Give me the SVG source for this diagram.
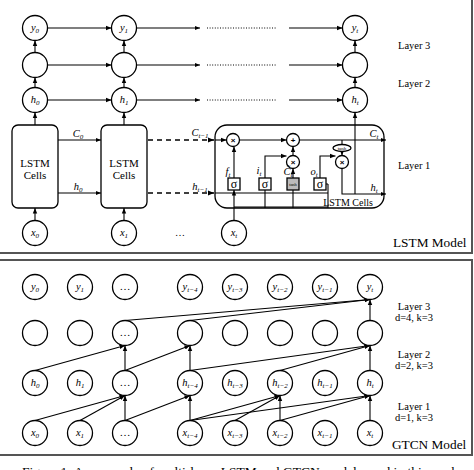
<svg xmlns="http://www.w3.org/2000/svg" width="474" height="470" viewBox="0 0 474 470">
<defs>
<marker id="a" viewBox="0 0 10 10" refX="10" refY="5" markerWidth="5" markerHeight="5" orient="auto"><path d="M0,1 L10,5 L0,9 z" fill="#000"/></marker>
<style>
.n{fill:#fff;stroke:#000;stroke-width:1.3}
.l{stroke:#000;stroke-width:1.1;fill:none}
.d{stroke:#000;stroke-width:1.3;fill:none;stroke-dasharray:5,4}
.o{stroke:#000;stroke-width:1;fill:none;stroke-dasharray:1,1.6}
.ar{marker-end:url(#a)}
.m{font-family:"Liberation Serif",serif;font-style:italic;font-size:10.5px;text-anchor:middle}
.s{font-size:7px}
.t{font-family:"Liberation Serif",serif;font-size:11px;text-anchor:middle}
.big{font-family:"Liberation Serif",serif;font-size:13.3px}
.op{font-family:"Liberation Sans",sans-serif;font-size:8px;text-anchor:middle;font-weight:bold}
.frame{fill:none;stroke:#555;stroke-width:2}
</style>
</defs>
<rect width="474" height="470" fill="#fff"/>
<g id="frames">
<rect class="frame" x="-1" y="-2" width="473" height="255"/>
<rect class="frame" x="-1" y="260" width="473" height="195"/>
</g>

<!-- ============ LSTM panel ============ -->
<g id="lstm-connectors">
<line class="l ar" x1="47.5" y1="28" x2="111.5" y2="28"/>
<line class="l ar" x1="136.5" y1="28" x2="200" y2="28"/>
<line class="o" x1="207" y1="28" x2="277" y2="28"/>
<line class="l ar" x1="289" y1="28" x2="342.5" y2="28"/>
<line class="l ar" x1="47.5" y1="65" x2="111.5" y2="65"/>
<line class="l ar" x1="136.5" y1="65" x2="200" y2="65"/>
<line class="o" x1="207" y1="65" x2="277" y2="65"/>
<line class="l ar" x1="289" y1="65" x2="342.5" y2="65"/>
<line class="l ar" x1="47.5" y1="100" x2="111.5" y2="100"/>
<line class="l ar" x1="136.5" y1="100" x2="200" y2="100"/>
<line class="o" x1="207" y1="100" x2="277" y2="100"/>
<line class="l ar" x1="289" y1="100" x2="342.5" y2="100"/>
<line class="l ar" x1="35" y1="87.5" x2="35" y2="77.5"/>
<line class="l ar" x1="35" y1="52.5" x2="35" y2="40.5"/>
<line class="l ar" x1="124" y1="87.5" x2="124" y2="77.5"/>
<line class="l ar" x1="124" y1="52.5" x2="124" y2="40.5"/>
<line class="l ar" x1="355" y1="87.5" x2="355" y2="77.5"/>
<line class="l ar" x1="355" y1="52.5" x2="355" y2="40.5"/>
<line class="l ar" x1="35" y1="125" x2="35" y2="112.5"/>
<line class="l ar" x1="124" y1="125" x2="124" y2="112.5"/>
<line class="l ar" x1="35" y1="220.5" x2="35" y2="208"/>
<line class="l ar" x1="124" y1="220.5" x2="124" y2="208"/>
<line class="l ar" x1="58" y1="140" x2="101" y2="140"/>
<line class="l ar" x1="58" y1="193" x2="101" y2="193"/>
<line class="d ar" x1="148" y1="140" x2="214" y2="140"/>
<line class="d ar" x1="148" y1="193" x2="214" y2="193"/>
</g>

<g id="lstm-cell-0">
<rect class="n" x="12" y="125" width="46" height="83" rx="6"/>
<text class="t" x="35" y="167">LSTM</text>
<text class="t" x="35" y="179">Cells</text>
</g>
<g id="lstm-cell-1">
<rect class="n" x="101" y="125" width="46" height="83" rx="6"/>
<text class="t" x="124" y="167">LSTM</text>
<text class="t" x="124" y="179">Cells</text>
</g>

<g id="lstm-cell-t">
<rect class="n" x="215" y="125" width="169" height="83" rx="12"/>
<line class="l ar" x1="215" y1="140" x2="226.5" y2="140"/>
<line class="l ar" x1="239.5" y1="140" x2="286.5" y2="140"/>
<line class="l ar" x1="299.5" y1="140" x2="386" y2="140"/>
<line class="l" x1="342" y1="140" x2="342" y2="144.5"/>
<line class="l ar" x1="342" y1="151.5" x2="342" y2="155.5"/>
<polyline class="l ar" points="342,168.5 342,194 386,194"/>
<line class="l ar" x1="355" y1="194" x2="355" y2="112.5"/>
<line class="l" x1="215" y1="193" x2="328" y2="193"/>
<line class="l ar" x1="234" y1="178" x2="234" y2="146.5"/>
<polyline class="l ar" points="265,178 265,156 286.5,156"/>
<line class="l ar" x1="293" y1="178" x2="293" y2="168.5"/>
<line class="l ar" x1="293" y1="155.5" x2="293" y2="146.5"/>
<polyline class="l ar" points="320,178 320,156 335.5,156"/>
<line class="l" x1="265" y1="190" x2="265" y2="208"/>
<line class="l" x1="293" y1="190" x2="293" y2="208"/>
<line class="l" x1="328" y1="184" x2="328" y2="208"/>
<line class="l" x1="326" y1="184" x2="328" y2="184"/>
<line class="l" x1="234" y1="207" x2="328" y2="207"/>
<circle class="n" cx="233" cy="140" r="6.5"/><text class="op" x="233" y="143">×</text>
<circle class="n" cx="293" cy="140" r="6.5"/><text class="op" x="293" y="143">+</text>
<circle class="n" cx="293" cy="162" r="6.5"/><text class="op" x="293" y="165">×</text>
<circle class="n" cx="342" cy="162" r="6.5"/><text class="op" x="342" y="165">×</text>
<ellipse class="n" cx="342" cy="148" rx="9" ry="3.5"/>
<text x="342" y="149.8" font-family="Liberation Serif,serif" font-size="5" text-anchor="middle">tanh</text>
<rect class="n" x="228" y="178" width="12" height="12"/><text x="234" y="188" font-family="Liberation Serif,serif" font-size="12" text-anchor="middle">σ</text>
<rect class="n" x="259" y="178" width="12" height="12"/><text x="265" y="188" font-family="Liberation Serif,serif" font-size="12" text-anchor="middle">σ</text>
<rect x="287" y="178" width="12" height="12" fill="#bbb" stroke="#000" stroke-width="1.3"/><text x="293" y="185.8" font-family="Liberation Serif,serif" font-size="4.5" text-anchor="middle">tanh</text>
<rect class="n" x="314" y="178" width="12" height="12"/><text x="320" y="188" font-family="Liberation Serif,serif" font-size="12" text-anchor="middle">σ</text>
<text class="m" x="228" y="175">f<tspan class="s" dy="2">t</tspan></text>
<text class="m" x="259" y="174">i<tspan class="s" dy="2">t</tspan></text>
<text class="m" x="288" y="175">C̃<tspan class="s" dy="2">t</tspan></text>
<text class="m" x="314" y="175">o<tspan class="s" dy="2">t</tspan></text>
<text class="m" x="374" y="137">C<tspan class="s" dy="2">t</tspan></text>
<text class="m" x="374" y="191">h<tspan class="s" dy="2">t</tspan></text>
<text x="348" y="206" font-family="Liberation Serif,serif" font-size="10" text-anchor="middle">LSTM Cells</text>
</g>

<g id="lstm-labels">
<text class="m" x="78" y="137">C<tspan class="s" dy="2">0</tspan></text>
<text class="m" x="78" y="190">h<tspan class="s" dy="2">0</tspan></text>
<text class="m" x="200" y="136">C<tspan class="s" dy="2">t−1</tspan></text>
<text class="m" x="200" y="190">h<tspan class="s" dy="2">t−1</tspan></text>
<text x="180" y="236" font-family="Liberation Serif,serif" font-size="10" text-anchor="middle">…</text>
<text x="398" y="49" font-family="Liberation Serif,serif" font-size="10.5">Layer 3</text>
<text x="398" y="87" font-family="Liberation Serif,serif" font-size="10.5">Layer 2</text>
<text x="398" y="169" font-family="Liberation Serif,serif" font-size="10.5">Layer 1</text>
<text class="big" x="393" y="247">LSTM Model</text>
</g>

<g id="lstm-y0"><circle class="n" cx="35" cy="28" r="12.5"/><text class="m" x="35" y="31">y<tspan class="s" dy="2">0</tspan></text></g>
<g id="lstm-y1"><circle class="n" cx="124" cy="28" r="12.5"/><text class="m" x="124" y="31">y<tspan class="s" dy="2">1</tspan></text></g>
<g id="lstm-yt"><circle class="n" cx="355" cy="28" r="12.5"/><text class="m" x="355" y="31">y<tspan class="s" dy="2">t</tspan></text></g>
<g id="lstm-m0"><circle class="n" cx="35" cy="65" r="12.5"/></g>
<g id="lstm-m1"><circle class="n" cx="124" cy="65" r="12.5"/></g>
<g id="lstm-mt"><circle class="n" cx="355" cy="65" r="12.5"/></g>
<g id="lstm-h0"><circle class="n" cx="35" cy="100" r="12.5"/><text class="m" x="35" y="103">h<tspan class="s" dy="2">0</tspan></text></g>
<g id="lstm-h1"><circle class="n" cx="124" cy="100" r="12.5"/><text class="m" x="124" y="103">h<tspan class="s" dy="2">1</tspan></text></g>
<g id="lstm-ht"><circle class="n" cx="355" cy="100" r="12.5"/><text class="m" x="355" y="103">h<tspan class="s" dy="2">t</tspan></text></g>
<g id="lstm-x0"><circle class="n" cx="35" cy="233" r="12.5"/><text class="m" x="35" y="236">x<tspan class="s" dy="2">0</tspan></text></g>
<g id="lstm-x1"><circle class="n" cx="124" cy="233" r="12.5"/><text class="m" x="124" y="236">x<tspan class="s" dy="2">1</tspan></text></g>
<g id="lstm-xt"><circle class="n" cx="234" cy="233" r="12.5"/><text class="m" x="234" y="236">x<tspan class="s" dy="2">t</tspan></text></g>
<g id="lstm-xt-conn"><line class="l ar" x1="234" y1="220.5" x2="234" y2="190"/></g>

<!-- ============ GTCN panel ============ -->
<g id="gtcn-connectors">
<line class="l ar" x1="35" y1="420.5" x2="125" y2="395.5"/>
<line class="l ar" x1="80" y1="420.5" x2="125" y2="395.5"/>
<line class="l ar" x1="125" y1="420.5" x2="125" y2="395.5"/>
<line class="l ar" x1="125" y1="420.5" x2="190" y2="395.5"/>
<line class="l ar" x1="190" y1="420.5" x2="190" y2="395.5"/>
<line class="l ar" x1="190" y1="420.5" x2="280" y2="395.5"/>
<line class="l ar" x1="235" y1="420.5" x2="280" y2="395.5"/>
<line class="l ar" x1="280" y1="420.5" x2="280" y2="395.5"/>
<line class="l ar" x1="190" y1="420.5" x2="370" y2="395.5"/>
<line class="l ar" x1="280" y1="420.5" x2="370" y2="395.5"/>
<line class="l ar" x1="370" y1="420.5" x2="370" y2="395.5"/>
<line class="l ar" x1="35" y1="370.5" x2="125" y2="345.5"/>
<line class="l ar" x1="125" y1="370.5" x2="125" y2="345.5"/>
<line class="l ar" x1="125" y1="370.5" x2="190" y2="345.5"/>
<line class="l ar" x1="190" y1="370.5" x2="190" y2="345.5"/>
<line class="l ar" x1="190" y1="370.5" x2="370" y2="345.5"/>
<line class="l ar" x1="280" y1="370.5" x2="370" y2="345.5"/>
<line class="l ar" x1="370" y1="370.5" x2="370" y2="345.5"/>
<line class="l ar" x1="125" y1="320.5" x2="370" y2="299.5"/>
<line class="l ar" x1="190" y1="320.5" x2="370" y2="299.5"/>
<line class="l ar" x1="370" y1="320.5" x2="370" y2="299.5"/>
</g>

<g id="g-y0"><circle class="n" cx="35" cy="287" r="12.5"/><text class="m" x="35" y="290">y<tspan class="s" dy="2">0</tspan></text></g>
<g id="g-y1"><circle class="n" cx="80" cy="287" r="12.5"/><text class="m" x="80" y="290">y<tspan class="s" dy="2">1</tspan></text></g>
<g id="g-y2"><circle class="n" cx="125" cy="287" r="12.5"/><text class="t" x="125" y="290">…</text></g>
<g id="g-y3"><circle class="n" cx="190" cy="287" r="12.5"/><text class="m" x="190" y="290">y<tspan class="s" dy="2">t−4</tspan></text></g>
<g id="g-y4"><circle class="n" cx="235" cy="287" r="12.5"/><text class="m" x="235" y="290">y<tspan class="s" dy="2">t−3</tspan></text></g>
<g id="g-y5"><circle class="n" cx="280" cy="287" r="12.5"/><text class="m" x="280" y="290">y<tspan class="s" dy="2">t−2</tspan></text></g>
<g id="g-y6"><circle class="n" cx="325" cy="287" r="12.5"/><text class="m" x="325" y="290">y<tspan class="s" dy="2">t−1</tspan></text></g>
<g id="g-y7"><circle class="n" cx="370" cy="287" r="12.5"/><text class="m" x="370" y="290">y<tspan class="s" dy="2">t</tspan></text></g>

<g id="g-m0"><circle class="n" cx="35" cy="333" r="12.5"/></g>
<g id="g-m1"><circle class="n" cx="80" cy="333" r="12.5"/></g>
<g id="g-m2"><circle class="n" cx="125" cy="333" r="12.5"/><text class="t" x="125" y="336">…</text></g>
<g id="g-m3"><circle class="n" cx="190" cy="333" r="12.5"/></g>
<g id="g-m4"><circle class="n" cx="235" cy="333" r="12.5"/></g>
<g id="g-m5"><circle class="n" cx="280" cy="333" r="12.5"/></g>
<g id="g-m6"><circle class="n" cx="325" cy="333" r="12.5"/></g>
<g id="g-m7"><circle class="n" cx="370" cy="333" r="12.5"/></g>

<g id="g-h0"><circle class="n" cx="35" cy="383" r="12.5"/><text class="m" x="35" y="386">h<tspan class="s" dy="2">0</tspan></text></g>
<g id="g-h1"><circle class="n" cx="80" cy="383" r="12.5"/><text class="m" x="80" y="386">h<tspan class="s" dy="2">1</tspan></text></g>
<g id="g-h2"><circle class="n" cx="125" cy="383" r="12.5"/><text class="t" x="125" y="386">…</text></g>
<g id="g-h3"><circle class="n" cx="190" cy="383" r="12.5"/><text class="m" x="190" y="386">h<tspan class="s" dy="2">t−4</tspan></text></g>
<g id="g-h4"><circle class="n" cx="235" cy="383" r="12.5"/><text class="m" x="235" y="386">h<tspan class="s" dy="2">t−3</tspan></text></g>
<g id="g-h5"><circle class="n" cx="280" cy="383" r="12.5"/><text class="m" x="280" y="386">h<tspan class="s" dy="2">t−2</tspan></text></g>
<g id="g-h6"><circle class="n" cx="325" cy="383" r="12.5"/><text class="m" x="325" y="386">h<tspan class="s" dy="2">t−1</tspan></text></g>
<g id="g-h7"><circle class="n" cx="370" cy="383" r="12.5"/><text class="m" x="370" y="386">h<tspan class="s" dy="2">t</tspan></text></g>

<g id="g-x0"><circle class="n" cx="35" cy="433" r="12.5"/><text class="m" x="35" y="436">x<tspan class="s" dy="2">0</tspan></text></g>
<g id="g-x1"><circle class="n" cx="80" cy="433" r="12.5"/><text class="m" x="80" y="436">x<tspan class="s" dy="2">1</tspan></text></g>
<g id="g-x2"><circle class="n" cx="125" cy="433" r="12.5"/><text class="t" x="125" y="436">…</text></g>
<g id="g-x3"><circle class="n" cx="190" cy="433" r="12.5"/><text class="m" x="190" y="436">x<tspan class="s" dy="2">t−4</tspan></text></g>
<g id="g-x4"><circle class="n" cx="235" cy="433" r="12.5"/><text class="m" x="235" y="436">x<tspan class="s" dy="2">t−3</tspan></text></g>
<g id="g-x5"><circle class="n" cx="280" cy="433" r="12.5"/><text class="m" x="280" y="436">x<tspan class="s" dy="2">t−2</tspan></text></g>
<g id="g-x6"><circle class="n" cx="325" cy="433" r="12.5"/><text class="m" x="325" y="436">x<tspan class="s" dy="2">t−1</tspan></text></g>
<g id="g-x7"><circle class="n" cx="370" cy="433" r="12.5"/><text class="m" x="370" y="436">x<tspan class="s" dy="2">t</tspan></text></g>

<g id="gtcn-labels" font-family="Liberation Serif,serif" font-size="10.5" text-anchor="middle">
<text x="414" y="310">Layer 3</text>
<text x="414" y="321">d=4, k=3</text>
<text x="414" y="358">Layer 2</text>
<text x="414" y="369">d=2, k=3</text>
<text x="414" y="410">Layer 1</text>
<text x="414" y="421">d=1, k=3</text>
<text class="big" x="392" y="449" text-anchor="start">GTCN Model</text>
</g>
<text x="22" y="476" font-family="Liberation Serif,serif" font-size="13.5">Figure 1: An example of multi-layer LSTM and GTCN models used in this work.</text>
</svg>
